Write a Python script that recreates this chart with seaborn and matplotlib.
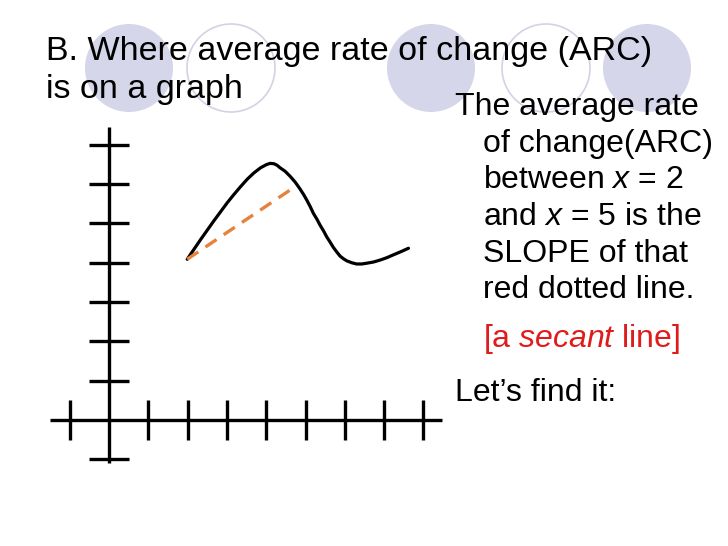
import matplotlib
matplotlib.use("Agg")
import matplotlib.pyplot as plt
from matplotlib.patches import Ellipse
import pandas as pd
import seaborn as sns

# curve (x, y in grid units)
curve_x = [1.99, 2.16, 2.33, 2.50, 2.67, 2.84, 3.01, 3.18, 3.35, 3.52, 3.69, 3.86,
           4.01, 4.10, 4.20, 4.28, 4.35, 4.48, 4.61, 4.74, 4.86, 4.95, 5.03, 5.12,
           5.20, 5.29, 5.37, 5.46, 5.54, 5.63, 5.71, 5.80, 5.88, 5.97, 6.05, 6.18,
           6.30, 6.43, 6.56, 6.73, 6.90, 7.07, 7.23, 7.42, 7.62]
curve_y = [4.09, 4.34, 4.59, 4.83, 5.07, 5.30, 5.53, 5.74, 5.94, 6.13, 6.29, 6.42,
           6.50, 6.53, 6.52, 6.48, 6.42, 6.33, 6.20, 6.05, 5.88, 5.74, 5.60, 5.43,
           5.26, 5.11, 4.96, 4.81, 4.66, 4.52, 4.39, 4.27, 4.17, 4.10, 4.05, 4.00,
           3.97, 3.97, 3.99, 4.02, 4.07, 4.13, 4.20, 4.28, 4.37]
secant_x = [1.99, 4.65]
secant_y = [4.09, 5.88]
x_ticks = [-1, 1, 2, 3, 4, 5, 6, 7, 8]
y_ticks = [-1, 1, 2, 3, 4, 5, 6, 7]

title_lines = ["B. Where average rate of change (ARC)", "is on a graph"]
body_lines = ["The average rate", "of change(ARC)", r"between $\mathit{x}$ = 2",
              r"and $\mathit{x}$ = 5 is the", "SLOPE of that", "red dotted line."]
secant_note = r"[a $\mathit{secant}$ line]"
last_line = "Let\u2019s find it:"

sns.set_theme(style="white")
plt.rcParams.update({
    "font.family": ["Liberation Sans", "DejaVu Sans"],
    "mathtext.fontset": "custom",
    "mathtext.rm": "Liberation Sans",
    "mathtext.it": "Liberation Sans:italic",
})

W, H = 728, 546
fig = plt.figure(figsize=(W / 100, H / 100), dpi=100)
fig.patch.set_facecolor("white")


def fx(px):
    return px / W


def fy(py):
    return 1 - py / H


# decorative circles at the top
for cx, filled in [(129, True), (231, False), (431, True), (546, False), (647, True)]:
    if filled:
        e = Ellipse((fx(cx), fy(68)), 88 / W, 88 / H, transform=fig.transFigure,
                    facecolor="#D6D6EB", edgecolor="none", zorder=0)
    else:
        e = Ellipse((fx(cx), fy(68)), 88 / W, 88 / H, transform=fig.transFigure,
                    facecolor="none", edgecolor="#D2D2E6", lw=1.2, zorder=0)
    fig.patches.append(e)

# graph axes, one unit = 39.3 px, origin at (109, 420)
unit = 39.3
xl, xr, yb, yt = -1.6, 8.6, -1.2, 7.6
left = 109 + xl * unit
bottom = 420 - yb * unit
ax = fig.add_axes([fx(left), fy(bottom), (xr - xl) * unit / W, (yt - yb) * unit / H])
ax.patch.set_alpha(0)

lw = 2.4
ax.hlines(0, -1.5, 8.47, color="black", lw=lw)
ax.vlines(0, -1.1, 7.45, color="black", lw=lw)
ax.vlines(x_ticks, -0.5, 0.5, color="black", lw=lw)
ax.hlines(y_ticks, -0.5, 0.5, color="black", lw=lw)

df = pd.DataFrame({"x": curve_x, "y": curve_y})
sns.lineplot(data=df, x="x", y="y", sort=False, color="black", lw=2.3, ax=ax,
             solid_joinstyle="round", solid_capstyle="round")
sec = pd.DataFrame({"x": secant_x, "y": secant_y})
sns.lineplot(data=sec, x="x", y="y", sort=False, color="#E6823C", lw=2.4, ax=ax,
             linestyle=(0, (4, 2.6)))
ax.set_xlim(xl, xr)
ax.set_ylim(yb, yt)
ax.axis("off")

# text
fig.text(fx(46), fy(60), title_lines[0], fontsize=24.5, color="black", va="baseline")
fig.text(fx(46), fy(98), title_lines[1], fontsize=24.5, color="black", va="baseline")

baselines = [115, 151.7, 188.3, 225, 261.7, 298.3]
for i, (line, yb_) in enumerate(zip(body_lines, baselines)):
    x0 = 455 if i == 0 else 483
    fig.text(fx(x0), fy(yb_), line, fontsize=23, color="black", va="baseline")
fig.text(fx(483), fy(346.5), secant_note, fontsize=23, color="#E01B1B", va="baseline")
fig.text(fx(455), fy(401), last_line, fontsize=23, color="black", va="baseline")

fig.savefig("out.png", dpi=100)
